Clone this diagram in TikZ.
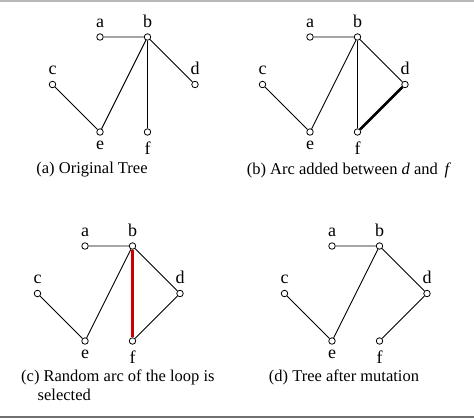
\documentclass[tikz,border=0pt]{standalone}
\usepackage{fontspec}
\setmainfont{Liberation Serif}

\begin{document}
\begin{tikzpicture}[x=1pt,y=-1pt,
    vtx/.style={circle,draw,fill=white,inner sep=0pt,minimum size=6.5pt,line width=.8pt},
    treeline/.style={line width=.9pt},
    every label/.style={font=\fontsize{18}{20}\selectfont,inner sep=2pt,label distance=3.5pt},
    capt/.style={font=\fontsize{16.5}{19}\selectfont,inner sep=0pt}]
  \useasboundingbox (0,0) rectangle (474,418);
  \fill[gray!56] (0,0) rectangle (474,2);
  \fill[black!56] (0,415.5) rectangle (474,418);

  % the same six vertices in each panel
  \foreach \p/\ox/\oy in {1/100/37,2/310/37,3/85/246,4/332/246} {
    \begin{scope}[shift={(\ox,\oy)}]
      \node[vtx,label=above:a] (a\p) at (0,0) {};
      \node[vtx,label=above:b] (b\p) at (47.5,0) {};
      \node[vtx,label=above:c] (c\p) at (-47.5,47.5) {};
      \node[vtx,label=above:d] (d\p) at (95,47.5) {};
      \node[vtx,label=below:e] (e\p) at (0,95) {};
      \node[vtx,label=below:f] (f\p) at (47.5,95) {};
    \end{scope}
    \draw[treeline] (a\p) -- (b\p) (b\p) -- (e\p) (c\p) -- (e\p) (b\p) -- (d\p);
  }

  % (a)
  \draw[treeline] (b1) -- (f1);
  % (b)
  \draw[treeline] (b2) -- (f2);
  \draw[line width=2.6pt] (d2) -- (f2);
  % (c)
  \draw[line width=2.6pt,red!80!black] (b3) -- (f3);
  \draw[treeline] (d3) -- (f3);
  % (d)
  \draw[treeline] (d4) -- (f4);

  \node[capt] (capa) at (92,170) {(a) Original Tree};
  \node[capt] (capb) at (349,170) {(b) Arc added between \textit{d} and \,\textit{f}};
  \node[capt,align=left,anchor=north west] (capc) at (21,370)
    {(c) Random arc of the loop is\\\hspace*{16.5pt}selected};
  \node[capt] (capd) at (344,377) {(d) Tree after mutation};
\end{tikzpicture}
\end{document}
